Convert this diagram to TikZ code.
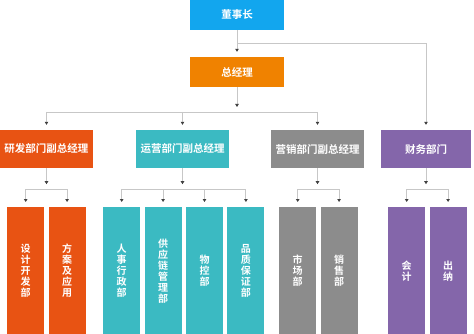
\documentclass[tikz,border=0pt]{standalone}
\usepackage{fontspec}
\newfontfamily\cjk{Noto Sans CJK SC Bold}
\usepackage{xcolor}
\usetikzlibrary{arrows.meta,positioning,calc}
\definecolor{dszblue}{HTML}{12A6EE}
\definecolor{zjlorange}{HTML}{F08200}
\definecolor{yfred}{HTML}{E85313}
\definecolor{yyteal}{HTML}{3BBAC2}
\definecolor{yxgray}{HTML}{8C8C8C}
\definecolor{cwpurple}{HTML}{8466AA}

\begin{document}
\begin{tikzpicture}[x=1pt, y=-1pt, node distance=4pt,
  box/.style={fill=#1, text=white, font=\cjk\fontsize{10.5}{12}\selectfont, inner sep=0pt, minimum width=93pt, minimum height=38pt},
  sub/.style={fill=#1, text=white, font=\cjk\fontsize{10}{11}\selectfont, align=center, inner sep=0pt, minimum width=37pt, minimum height=127pt},
  line/.style={draw=black!22, line width=0.9pt},
  arrow/.style={line, -{Triangle[length=3pt, width=3.5pt, color=black!75]}, shorten >=5pt}]

\useasboundingbox (0,0) rectangle (474,334);

\node[box=dszblue, minimum width=94pt, minimum height=30pt] (dsz) at (237,15) {董事长};
\node[box=zjlorange, minimum width=94pt, minimum height=30pt] (zjl) at (237,72) {总经理};

\node[box=yfred] (yf) at (46.5,149) {研发部门副总经理};
\node[box=yyteal] (yy) at (182.5,149) {运营部门副总经理};
\node[box=yxgray] (yx) at (317.5,149) {营销部门副总经理};
\node[box=cwpurple, minimum width=90pt] (cw) at (426,149) {财务部门};

\node[sub=yfred, anchor=north west] (sjkf) at (7,207) {设\\计\\开\\发\\部};
\node[sub=yfred, right=of sjkf] (fayy) {方\\案\\及\\应\\用};
\node[sub=yyteal, anchor=north west] (rsxz) at (103,207) {人\\事\\行\\政\\部};
\node[sub=yyteal, right=of rsxz] (gyl) {供\\应\\链\\管\\理\\部};
\node[sub=yyteal, right=of gyl] (wk) {物\\控\\部};
\node[sub=yyteal, right=of wk] (pzbz) {品\\质\\保\\证\\部};
\node[sub=yxgray, anchor=north west] (scb) at (279,207) {市\\场\\部};
\node[sub=yxgray, right=of scb] (xsb) {销\\售\\部};
\node[sub=cwpurple, anchor=north west] (kj) at (388,207) {会\\计};
\node[sub=cwpurple, right=of kj] (cn) {出\\纳};

% top levels
\coordinate (bus0) at (237,43);
\coordinate (bus1) at (237,112);
\draw[arrow] (dsz) -- (zjl);
\draw[arrow] (bus0) -| (cw);
\draw[arrow] (zjl) -- (bus1);
\draw[line] (bus1 -| yf) -- (bus1 -| yx);
\foreach \n in {yf,yy,yx} \draw[arrow] (bus1 -| \n) -- (\n);

% departments
\foreach \p/\a/\b/\kids in {yf/sjkf/fayy/{sjkf,fayy}, yy/rsxz/pzbz/{rsxz,gyl,wk,pzbz}, yx/scb/xsb/{scb,xsb}, cw/kj/cn/{kj,cn}} {
  \path (\p.south) ++(0,21) coordinate (\p-j);
  \draw[arrow] (\p) -- (\p-j);
  \draw[line] (\p-j -| \a) -- (\p-j -| \b);
  \foreach \k in \kids \draw[arrow] (\p-j -| \k) -- (\k);
}
\end{tikzpicture}
\end{document}
